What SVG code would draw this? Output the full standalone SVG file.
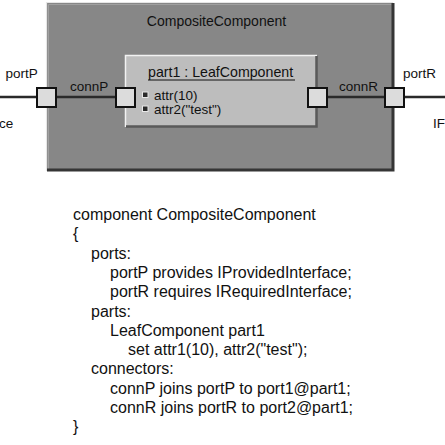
<svg xmlns="http://www.w3.org/2000/svg" width="445" height="445" viewBox="0 0 445 445">
<style>
text{font-family:"Liberation Sans",Arial,Helvetica,sans-serif;fill:#111}
.lbl{font-size:13.5px}
.code{font-size:16px}
.port{fill:#dcdcdc;stroke:#111;stroke-width:2}
.wire{stroke:#2a2a2a;stroke-width:2.5;fill:none}
.bul{fill:#2a2a2a;stroke:#e8e8e8;stroke-width:1}
</style>
<rect width="445" height="445" fill="#fff"/>
<g id="CompositeComponent">
  <rect x="47" y="3" width="346" height="168" fill="#878787"/>
  <path d="M46.5 171V2.5H393" stroke="#e6e6e6" stroke-width="1.2" fill="none"/>
  <path d="M48.5 169.5V4.5H391.5" stroke="#a0a0a0" stroke-width="1" fill="none"/>
  <path d="M47 170H393V3" stroke="#353535" stroke-width="3" fill="none"/>
  <text x="216.5" y="26" font-size="14" text-anchor="middle">CompositeComponent</text>
</g>
<g id="part1">
  <rect x="125" y="55" width="192" height="72" fill="#bdbdbd"/>
  <path d="M125.5 127V55.5H317" stroke="#f2f2f2" stroke-width="1.5" fill="none"/>
  <path d="M126 126.5H316.5V56" stroke="#5a5a5a" stroke-width="2.5" fill="none"/>
  <text x="148" y="77" font-size="14.2">part1 : LeafComponent</text>
  <line x1="148" y1="80" x2="295" y2="80" stroke="#111" stroke-width="1.2"/>
  <rect class="bul" x="142.5" y="92" width="5.5" height="5.5"/>
  <rect class="bul" x="142.5" y="106" width="5.5" height="5.5"/>
  <text class="lbl" x="154" y="100">attr(10)</text>
  <text class="lbl" x="154" y="114">attr2("test")</text>
</g>
<g id="connectors">
  <line class="wire" x1="0" y1="97" x2="37" y2="97"/>
  <line class="wire" x1="56" y1="97" x2="116" y2="97"/>
  <line class="wire" x1="327" y1="97" x2="385" y2="97"/>
  <line class="wire" x1="404" y1="97" x2="445" y2="97"/>
  <text class="lbl" x="70" y="91">connP</text>
  <text class="lbl" x="339" y="91">connR</text>
</g>
<g id="portP">
  <rect class="port" x="37" y="88" width="19" height="19"/>
  <text class="lbl" x="5.5" y="78">portP</text>
  <text class="lbl" x="-1" y="128">ce</text>
</g>
<g id="port1">
  <rect class="port" x="116" y="88" width="19" height="19"/>
</g>
<g id="port2">
  <rect class="port" x="308" y="88" width="19" height="19"/>
</g>
<g id="portR">
  <rect class="port" x="385" y="88" width="19" height="19"/>
  <text class="lbl" x="403" y="78">portR</text>
  <text class="lbl" x="433" y="128">IF</text>
</g>
<g id="code" class="code">
  <text class="code" x="73" y="220">component CompositeComponent</text>
  <text class="code" x="73" y="239.3">{</text>
  <text class="code" x="91" y="258.6">ports:</text>
  <text class="code" x="110" y="277.9">portP provides IProvidedInterface;</text>
  <text class="code" x="110" y="297.2">portR requires IRequiredInterface;</text>
  <text class="code" x="91" y="316.5">parts:</text>
  <text class="code" x="110" y="335.8">LeafComponent part1</text>
  <text class="code" x="128" y="355.1">set attr1(10), attr2("test");</text>
  <text class="code" x="91" y="374.4">connectors:</text>
  <text class="code" x="110" y="393.7">connP joins portP to port1@part1;</text>
  <text class="code" x="110" y="413">connR joins portR to port2@part1;</text>
  <text class="code" x="73" y="432.3">}</text>
</g>
</svg>
